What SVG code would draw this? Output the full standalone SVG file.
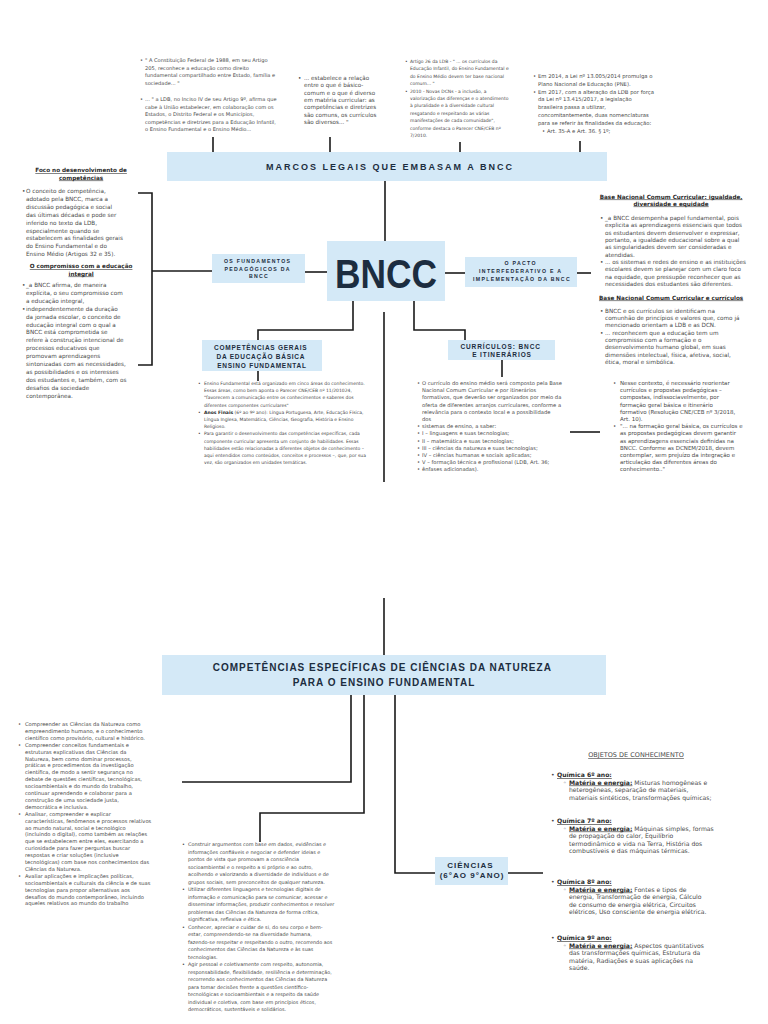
<svg xmlns="http://www.w3.org/2000/svg" width="768" height="1024" viewBox="0 0 768 1024">
<style>
.box{fill:#d4e9f7}
.lbl{font-family:"Liberation Sans",Arial,sans-serif;font-weight:bold;fill:#1c2d40;text-anchor:middle}
.tx{font-family:"DejaVu Sans","Liberation Sans",sans-serif;fill:#4a4a4a}
.hd{font-weight:bold;text-decoration:underline;text-anchor:middle;fill:#2a2a2a}
.b{font-weight:bold;fill:#2a2a2a}
.u{text-decoration:underline}
.cn{fill:none;stroke:#1a1a1a;stroke-width:1.6}
</style>
<rect width="768" height="1024" fill="#ffffff"/>

<g id="connectors">
<path class="cn" d="M213,137 V152"/>
<path class="cn" d="M330,137 V152"/>
<path class="cn" d="M460,142 V152"/>
<path class="cn" d="M580,141 V152"/>
<path class="cn" d="M385,181 V241"/>
<path class="cn" d="M138,193 H152 V365 H138"/>
<path class="cn" d="M152,271 H212"/>
<path class="cn" d="M305,272 H327"/>
<path class="cn" d="M445,273 H465"/>
<path class="cn" d="M577,273 H591"/>
<path class="cn" d="M353,301 V330 H258 V340"/>
<path class="cn" d="M414,301 V330 H465 V340"/>
<path class="cn" d="M258,371 V381"/>
<path class="cn" d="M502,360 V377"/>
<path class="cn" d="M384,312 V482"/>
<path class="cn" d="M570,432 H600"/>
<path class="cn" d="M384,598 V655"/>
<path class="cn" d="M351,695 V782 H182"/>
<path class="cn" d="M364,695 V813 H260 V842"/>
<path class="cn" d="M395,695 V873 H435"/>
<path class="cn" d="M508,873 H543"/>
</g>

<g id="marco-constituicao">
<text class="tx" font-size="5.1">
<tspan x="140" y="62">•</tspan><tspan x="145" y="62">" A Constituição Federal de 1988, em seu Artigo</tspan>
<tspan x="145" y="69.5">205, reconhece a educação como direito</tspan>
<tspan x="145" y="77">fundamental compartilhado entre Estado, família e</tspan>
<tspan x="145" y="84.5">sociedade... "</tspan>
<tspan x="140" y="101">•</tspan><tspan x="145" y="101">... " a LDB, no Inciso IV de seu Artigo 9º, afirma que</tspan>
<tspan x="145" y="108.5">cabe à União estabelecer, em colaboração com os</tspan>
<tspan x="145" y="116">Estados, o Distrito Federal e os Municípios,</tspan>
<tspan x="145" y="123.5">competências e diretrizes para a Educação Infantil,</tspan>
<tspan x="145" y="131">o Ensino Fundamental e o Ensino Médio...</tspan>
</text>
</g>

<g id="marco-basico-comum">
<text class="tx" font-size="5.6">
<tspan x="298" y="80">•</tspan><tspan x="304" y="80">... estabelece a relação</tspan>
<tspan x="304" y="87.3">entre o que é básico-</tspan>
<tspan x="304" y="94.6">comum e o que é diverso</tspan>
<tspan x="304" y="101.9">em matéria curricular: as</tspan>
<tspan x="304" y="109.2">competências e diretrizes</tspan>
<tspan x="304" y="116.5">são comuns, os currículos</tspan>
<tspan x="304" y="123.8">são diversos... "</tspan>
</text>
</g>

<g id="marco-ldb-dcn">
<text class="tx" font-size="4.5">
<tspan x="405" y="63">•</tspan><tspan x="410" y="63">Artigo 26 da LDB - " ... os currículos da</tspan>
<tspan x="410" y="70.4">Educação Infantil, do Ensino Fundamental e</tspan>
<tspan x="410" y="77.8">do Ensino Médio devem ter base nacional</tspan>
<tspan x="410" y="85.2">comum... "</tspan>
<tspan x="405" y="92.6">•</tspan><tspan x="410" y="92.6">2010 - Novas DCNs - a inclusão, a</tspan>
<tspan x="410" y="100">valorização das diferenças e o atendimento</tspan>
<tspan x="410" y="107.4">à pluralidade e à diversidade cultural</tspan>
<tspan x="410" y="114.8">resgatando e respeitando as várias</tspan>
<tspan x="410" y="122.2">manifestações de cada comunidade",</tspan>
<tspan x="410" y="129.6">conforme destaca o Parecer CNE/CEB nº</tspan>
<tspan x="410" y="137">7/2010.</tspan>
</text>
</g>

<g id="marco-pne">
<text class="tx" font-size="5.3">
<tspan x="533" y="78">•</tspan><tspan x="538" y="78">Em 2014, a Lei nº 13.005/2014 promulga o</tspan>
<tspan x="538" y="85.8">Plano Nacional de Educação (PNE).</tspan>
<tspan x="533" y="93.6">•</tspan><tspan x="538" y="93.6">Em 2017, com a alteração da LDB por força</tspan>
<tspan x="538" y="101.4">da Lei nº 13.415/2017, a legislação</tspan>
<tspan x="538" y="109.2">brasileira passa a utilizar,</tspan>
<tspan x="538" y="117">concomitantemente, duas nomenclaturas</tspan>
<tspan x="538" y="124.8">para se referir às finalidades da educação:</tspan>
<tspan x="542" y="132.6">•</tspan><tspan x="547" y="132.6">Art. 35-A e Art. 36. § 1º;</tspan>
</text>
</g>

<g id="marcos-legais">
<rect class="box" x="167" y="152" width="440" height="29"/>
<text class="lbl" x="390" y="169.5" font-size="9" letter-spacing="2">MARCOS LEGAIS QUE EMBASAM A BNCC</text>
</g>

<g id="bncc">
<rect class="box" x="327" y="241" width="118" height="60"/>
<text class="lbl" x="386" y="288" font-size="41" textLength="102" lengthAdjust="spacingAndGlyphs">BNCC</text>
</g>

<g id="fundamentos">
<rect class="box" x="212" y="254" width="93" height="29"/>
<text class="lbl" font-size="5.2" letter-spacing="1.3">
<tspan x="259" y="263">OS FUNDAMENTOS</tspan>
<tspan x="259" y="270.5">PEDAGÓGICOS DA</tspan>
<tspan x="259" y="278">BNCC</tspan>
</text>
</g>

<g id="fundamentos-texto">
<text class="tx" font-size="5.7">
<tspan class="hd" x="82" y="172">Foco no desenvolvimento de</tspan>
<tspan class="hd" x="82" y="179.5">competências</tspan>
<tspan x="22" y="193">•</tspan><tspan x="26" y="193">O conceito de competência,</tspan>
<tspan x="26" y="200.9">adotado pela BNCC, marca a</tspan>
<tspan x="26" y="208.8">discussão pedagógica e social</tspan>
<tspan x="26" y="216.7">das últimas décadas e pode ser</tspan>
<tspan x="26" y="224.6">inferido no texto da LDB,</tspan>
<tspan x="26" y="232.5">especialmente quando se</tspan>
<tspan x="26" y="240.4">estabelecem as finalidades gerais</tspan>
<tspan x="26" y="248.3">do Ensino Fundamental e do</tspan>
<tspan x="26" y="256.2">Ensino Médio (Artigos 32 e 35).</tspan>
<tspan class="hd" x="82" y="268">O compromisso com a educação</tspan>
<tspan class="hd" x="82" y="275.5">integral</tspan>
<tspan x="22" y="287">•</tspan><tspan x="26" y="287">_a BNCC afirma, de maneira</tspan>
<tspan x="26" y="294.9">explícita, o seu compromisso com</tspan>
<tspan x="26" y="302.8">a educação integral,</tspan>
<tspan x="22" y="310.7">•</tspan><tspan x="26" y="310.7">independentemente da duração</tspan>
<tspan x="26" y="318.6">da jornada escolar, o conceito de</tspan>
<tspan x="26" y="326.5">educação integral com o qual a</tspan>
<tspan x="26" y="334.4">BNCC está comprometida se</tspan>
<tspan x="26" y="342.3">refere à construção intencional de</tspan>
<tspan x="26" y="350.2">processos educativos que</tspan>
<tspan x="26" y="358.1">promovam aprendizagens</tspan>
<tspan x="26" y="366">sintonizadas com as necessidades,</tspan>
<tspan x="26" y="373.9">as possibilidades e os interesses</tspan>
<tspan x="26" y="381.8">dos estudantes e, também, com os</tspan>
<tspan x="26" y="389.7">desafios da sociedade</tspan>
<tspan x="26" y="397.6">contemporânea.</tspan>
</text>
</g>

<g id="pacto">
<rect class="box" x="465" y="257" width="112" height="30"/>
<text class="lbl" font-size="5.2" letter-spacing="1.3">
<tspan x="522" y="264.5">O PACTO</tspan>
<tspan x="522" y="273">INTERFEDERATIVO E A</tspan>
<tspan x="522" y="280.5">IMPLEMENTAÇÃO DA BNCC</tspan>
</text>
</g>

<g id="pacto-texto">
<text class="tx" font-size="5.7">
<tspan class="hd" x="672" y="198.5">Base Nacional Comum Curricular: igualdade,</tspan>
<tspan class="hd" x="672" y="205.5">diversidade e equidade</tspan>
<tspan x="600" y="220">•</tspan><tspan x="605" y="220">_a BNCC desempenha papel fundamental, pois</tspan>
<tspan x="605" y="227.35">explicita as aprendizagens essenciais que todos</tspan>
<tspan x="605" y="234.7">os estudantes devem desenvolver e expressar,</tspan>
<tspan x="605" y="242.05">portanto, a igualdade educacional sobre a qual</tspan>
<tspan x="605" y="249.4">as singularidades devem ser consideradas e</tspan>
<tspan x="605" y="256.75">atendidas.</tspan>
<tspan x="600" y="264.1">•</tspan><tspan x="605" y="264.1">... os sistemas e redes de ensino e as instituições</tspan>
<tspan x="605" y="271.45">escolares devem se planejar com um claro foco</tspan>
<tspan x="605" y="278.8">na equidade, que pressupõe reconhecer que as</tspan>
<tspan x="605" y="286.15">necessidades dos estudantes são diferentes.</tspan>
<tspan class="hd" x="672" y="299.5">Base Nacional Comum Curricular e currículos</tspan>
<tspan x="600" y="312.5">•</tspan><tspan x="605" y="312.5">BNCC e os currículos se identificam na</tspan>
<tspan x="605" y="319.85">comunhão de princípios e valores que, como já</tspan>
<tspan x="605" y="327.2">mencionado orientam a LDB e as DCN.</tspan>
<tspan x="600" y="334.55">•</tspan><tspan x="605" y="334.55">... reconhecem que a educação tem um</tspan>
<tspan x="605" y="341.9">compromisso com a formação e o</tspan>
<tspan x="605" y="349.25">desenvolvimento humano global, em suas</tspan>
<tspan x="605" y="356.6">dimensões intelectual, física, afetiva, social,</tspan>
<tspan x="605" y="363.95">ética, moral e simbólica.</tspan>
</text>
</g>

<g id="competencias-gerais">
<rect class="box" x="202" y="340" width="120" height="31"/>
<text class="lbl" font-size="6.5" letter-spacing="0.75">
<tspan x="262" y="349.5">COMPETÊNCIAS GERAIS</tspan>
<tspan x="262" y="359">DA EDUCAÇÃO BÁSICA</tspan>
<tspan x="262" y="368.3">ENSINO FUNDAMENTAL</tspan>
</text>
</g>

<g id="competencias-gerais-texto">
<text class="tx" font-size="4.5">
<tspan x="198" y="385">•</tspan><tspan x="204" y="385">Ensino Fundamental está organizado em cinco áreas do conhecimento.</tspan>
<tspan x="204" y="392.2">Essas áreas, como bem aponta o Parecer CNE/CEB nº 11/201024,</tspan>
<tspan x="204" y="399.4">"favorecem a comunicação entre os conhecimentos e saberes dos</tspan>
<tspan x="204" y="406.6">diferentes componentes curriculares"</tspan>
<tspan x="198" y="413.8">•</tspan><tspan x="204" y="413.8" class="b">Anos Finais</tspan><tspan> (6º ao 9º ano): Língua Portuguesa, Arte, Educação Física,</tspan>
<tspan x="204" y="421">Língua Inglesa, Matemática, Ciências, Geografia, História e Ensino</tspan>
<tspan x="204" y="428.2">Religioso.</tspan>
<tspan x="198" y="435.4">•</tspan><tspan x="204" y="435.4">Para garantir o desenvolvimento das competências específicas, cada</tspan>
<tspan x="204" y="442.6">componente curricular apresenta um conjunto de habilidades. Essas</tspan>
<tspan x="204" y="449.8">habilidades estão relacionadas a diferentes objetos de conhecimento –</tspan>
<tspan x="204" y="457">aqui entendidos como conteúdos, conceitos e processos –, que, por sua</tspan>
<tspan x="204" y="464.2">vez, são organizados em unidades temáticas.</tspan>
</text>
</g>

<g id="curriculos">
<rect class="box" x="448" y="340" width="107" height="20"/>
<text class="lbl" font-size="6.5" letter-spacing="0.9">
<tspan x="502" y="348.5">CURRÍCULOS: BNCC</tspan>
<tspan x="502" y="357">E ITINERÁRIOS</tspan>
</text>
</g>

<g id="curriculos-texto">
<text class="tx" font-size="5.2">
<tspan x="417" y="385">•</tspan><tspan x="422" y="385">O currículo do ensino médio será composto pela Base</tspan>
<tspan x="422" y="392.2">Nacional Comum Curricular e por itinerários</tspan>
<tspan x="422" y="399.4">formativos, que deverão ser organizados por meio da</tspan>
<tspan x="422" y="406.6">oferta de diferentes arranjos curriculares, conforme a</tspan>
<tspan x="422" y="413.8">relevância para o contexto local e a possibilidade</tspan>
<tspan x="422" y="421">dos</tspan>
<tspan x="417" y="428.2">•</tspan><tspan x="422" y="428.2">sistemas de ensino, a saber:</tspan>
<tspan x="417" y="435.4">•</tspan><tspan x="422" y="435.4">I – linguagens e suas tecnologias;</tspan>
<tspan x="417" y="442.6">•</tspan><tspan x="422" y="442.6">II – matemática e suas tecnologias;</tspan>
<tspan x="417" y="449.8">•</tspan><tspan x="422" y="449.8">III – ciências da natureza e suas tecnologias;</tspan>
<tspan x="417" y="457">•</tspan><tspan x="422" y="457">IV – ciências humanas e sociais aplicadas;</tspan>
<tspan x="417" y="464.2">•</tspan><tspan x="422" y="464.2">V – formação técnica e profissional (LDB, Art. 36;</tspan>
<tspan x="417" y="471.4">•</tspan><tspan x="422" y="471.4">ênfases adicionadas).</tspan>
</text>
</g>

<g id="curriculos-reorientar">
<text class="tx" font-size="5.5">
<tspan x="613" y="385">•</tspan><tspan x="620" y="385">Nesse contexto, é necessário reorientar</tspan>
<tspan x="620" y="392.2">currículos e propostas pedagógicas –</tspan>
<tspan x="620" y="399.4">compostas, indissociavelmente, por</tspan>
<tspan x="620" y="406.6">formação geral básica e itinerário</tspan>
<tspan x="620" y="413.8">formativo (Resolução CNE/CEB nº 3/2018,</tspan>
<tspan x="620" y="421">Art. 10).</tspan>
<tspan x="613" y="428.2">•</tspan><tspan x="620" y="428.2">"... na formação geral básica, os currículos e</tspan>
<tspan x="620" y="435.4">as propostas pedagógicas devem garantir</tspan>
<tspan x="620" y="442.6">as aprendizagens essenciais definidas na</tspan>
<tspan x="620" y="449.8">BNCC. Conforme as DCNEM/2018, devem</tspan>
<tspan x="620" y="457">contemplar, sem prejuízo da integração e</tspan>
<tspan x="620" y="464.2">articulação das diferentes áreas do</tspan>
<tspan x="620" y="471.4">conhecimento.."</tspan>
</text>
</g>

<g id="competencias-especificas">
<rect class="box" x="162" y="655" width="444" height="40"/>
<text class="lbl" font-size="10" letter-spacing="1">
<tspan x="384" y="670.5">COMPETÊNCIAS ESPECÍFICAS DE CIÊNCIAS DA NATUREZA</tspan>
<tspan x="384" y="685.5">PARA O ENSINO FUNDAMENTAL</tspan>
</text>
</g>

<g id="especificas-texto-1">
<text class="tx" font-size="5.2">
<tspan x="18" y="726">•</tspan><tspan x="25" y="726">Compreender as Ciências da Natureza como</tspan>
<tspan x="25" y="732.9">empreendimento humano, e o conhecimento</tspan>
<tspan x="25" y="739.8">científico como provisório, cultural e histórico.</tspan>
<tspan x="18" y="746.7">•</tspan><tspan x="25" y="746.7">Compreender conceitos fundamentais e</tspan>
<tspan x="25" y="753.6">estruturas explicativas das Ciências da</tspan>
<tspan x="25" y="760.5">Natureza, bem como dominar processos,</tspan>
<tspan x="25" y="767.4">práticas e procedimentos da investigação</tspan>
<tspan x="25" y="774.3">científica, de modo a sentir segurança no</tspan>
<tspan x="25" y="781.2">debate de questões científicas, tecnológicas,</tspan>
<tspan x="25" y="788.1">socioambientais e do mundo do trabalho,</tspan>
<tspan x="25" y="795">continuar aprendendo e colaborar para a</tspan>
<tspan x="25" y="801.9">construção de uma sociedade justa,</tspan>
<tspan x="25" y="808.8">democrática e inclusiva.</tspan>
<tspan x="18" y="815.7">•</tspan><tspan x="25" y="815.7">Analisar, compreender e explicar</tspan>
<tspan x="25" y="822.6">características, fenômenos e processos relativos</tspan>
<tspan x="25" y="829.5">ao mundo natural, social e tecnológico</tspan>
<tspan x="25" y="836.4">(incluindo o digital), como também as relações</tspan>
<tspan x="25" y="843.3">que se estabelecem entre eles, exercitando a</tspan>
<tspan x="25" y="850.2">curiosidade para fazer perguntas buscar</tspan>
<tspan x="25" y="857.1">respostas e criar soluções (inclusive</tspan>
<tspan x="25" y="864">tecnológicas) com base nos conhecimentos das</tspan>
<tspan x="25" y="870.9">Ciências da Natureza.</tspan>
<tspan x="18" y="877.8">•</tspan><tspan x="25" y="877.8">Avaliar aplicações e implicações políticas,</tspan>
<tspan x="25" y="884.7">socioambientais e culturais da ciência e de suas</tspan>
<tspan x="25" y="891.6">tecnologias para propor alternativas aos</tspan>
<tspan x="25" y="898.5">desafios do mundo contemporâneo, incluindo</tspan>
<tspan x="25" y="905.4">aqueles relativos ao mundo do trabalho</tspan>
</text>
</g>

<g id="especificas-texto-2">
<text class="tx" font-size="4.9">
<tspan x="182" y="846">•</tspan><tspan x="188" y="846">Construir argumentos com base em dados, evidências e</tspan>
<tspan x="188" y="853.5">informações confiáveis e negociar e defender ideias e</tspan>
<tspan x="188" y="861">pontos de vista que promovam a consciência</tspan>
<tspan x="188" y="868.5">socioambiental e o respeito a si próprio e ao outro,</tspan>
<tspan x="188" y="876">acolhendo e valorizando a diversidade de indivíduos e de</tspan>
<tspan x="188" y="883.5">grupos sociais, sem preconceitos de qualquer natureza.</tspan>
<tspan x="182" y="891">•</tspan><tspan x="188" y="891">Utilizar diferentes linguagens e tecnologias digitais de</tspan>
<tspan x="188" y="898.5">informação e comunicação para se comunicar, acessar e</tspan>
<tspan x="188" y="906">disseminar informações, produzir conhecimentos e resolver</tspan>
<tspan x="188" y="913.5">problemas das Ciências da Natureza de forma crítica,</tspan>
<tspan x="188" y="921">significativa, reflexiva e ética.</tspan>
<tspan x="182" y="928.5">•</tspan><tspan x="188" y="928.5">Conhecer, apreciar e cuidar de si, do seu corpo e bem-</tspan>
<tspan x="188" y="936">estar, compreendendo-se na diversidade humana,</tspan>
<tspan x="188" y="943.5">fazendo-se respeitar e respeitando o outro, recorrendo aos</tspan>
<tspan x="188" y="951">conhecimentos das Ciências da Natureza e às suas</tspan>
<tspan x="188" y="958.5">tecnologias.</tspan>
<tspan x="182" y="966">•</tspan><tspan x="188" y="966">Agir pessoal e coletivamente com respeito, autonomia,</tspan>
<tspan x="188" y="973.5">responsabilidade, flexibilidade, resiliência e determinação,</tspan>
<tspan x="188" y="981">recorrendo aos conhecimentos das Ciências da Natureza</tspan>
<tspan x="188" y="988.5">para tomar decisões frente a questões científico-</tspan>
<tspan x="188" y="996">tecnológicas e socioambientais e a respeito da saúde</tspan>
<tspan x="188" y="1003.5">individual e coletiva, com base em princípios éticos,</tspan>
<tspan x="188" y="1011">democráticos, sustentáveis e solidários.</tspan>
</text>
</g>

<g id="ciencias">
<rect class="box" x="435" y="857" width="73" height="28"/>
<text class="lbl" font-size="8" letter-spacing="1">
<tspan x="472" y="868">CIÊNCIAS</tspan>
<tspan x="472" y="878">(6°AO 9°ANO)</tspan>
</text>
</g>

<g id="objetos-conhecimento">
<text class="tx" font-size="6.1">
<tspan x="637" y="757" text-anchor="middle" class="u" font-size="6.5">OBJETOS DE CONHECIMENTO</tspan>
<tspan x="551" y="777">•</tspan><tspan x="557" y="777" class="b u">Química 6º ano:</tspan>
<tspan x="563" y="784.5">◦</tspan><tspan x="569" y="784.5" class="b u">Matéria e energia:</tspan><tspan> Misturas homogêneas e</tspan>
<tspan x="569" y="792">heterogêneas, separação de materiais,</tspan>
<tspan x="569" y="799.5">materiais sintéticos, transformações químicas;</tspan>
<tspan x="551" y="823">•</tspan><tspan x="557" y="823" class="b u">Química 7º ano:</tspan>
<tspan x="563" y="830.5">◦</tspan><tspan x="569" y="830.5" class="b u">Matéria e energia:</tspan><tspan> Máquinas simples, formas</tspan>
<tspan x="569" y="838">de propagação do calor, Equilíbrio</tspan>
<tspan x="569" y="845.5">termodinâmico e vida na Terra, História dos</tspan>
<tspan x="569" y="853">combustíveis e das máquinas térmicas.</tspan>
<tspan x="551" y="884">•</tspan><tspan x="557" y="884" class="b u">Química 8º ano:</tspan>
<tspan x="563" y="891.5">◦</tspan><tspan x="569" y="891.5" class="b u">Matéria e energia:</tspan><tspan> Fontes e tipos de</tspan>
<tspan x="569" y="899">energia, Transformação de energia, Cálculo</tspan>
<tspan x="569" y="906.5">de consumo de energia elétrica, Circuitos</tspan>
<tspan x="569" y="914">elétricos, Uso consciente de energia elétrica.</tspan>
<tspan x="551" y="940">•</tspan><tspan x="557" y="940" class="b u">Química 9º ano:</tspan>
<tspan x="563" y="947.5">◦</tspan><tspan x="569" y="947.5" class="b u">Matéria e energia:</tspan><tspan> Aspectos quantitativos</tspan>
<tspan x="569" y="955">das transformações químicas, Estrutura da</tspan>
<tspan x="569" y="962.5">matéria, Radiações e suas aplicações na</tspan>
<tspan x="569" y="970">saúde.</tspan>
</text>
</g>
</svg>
